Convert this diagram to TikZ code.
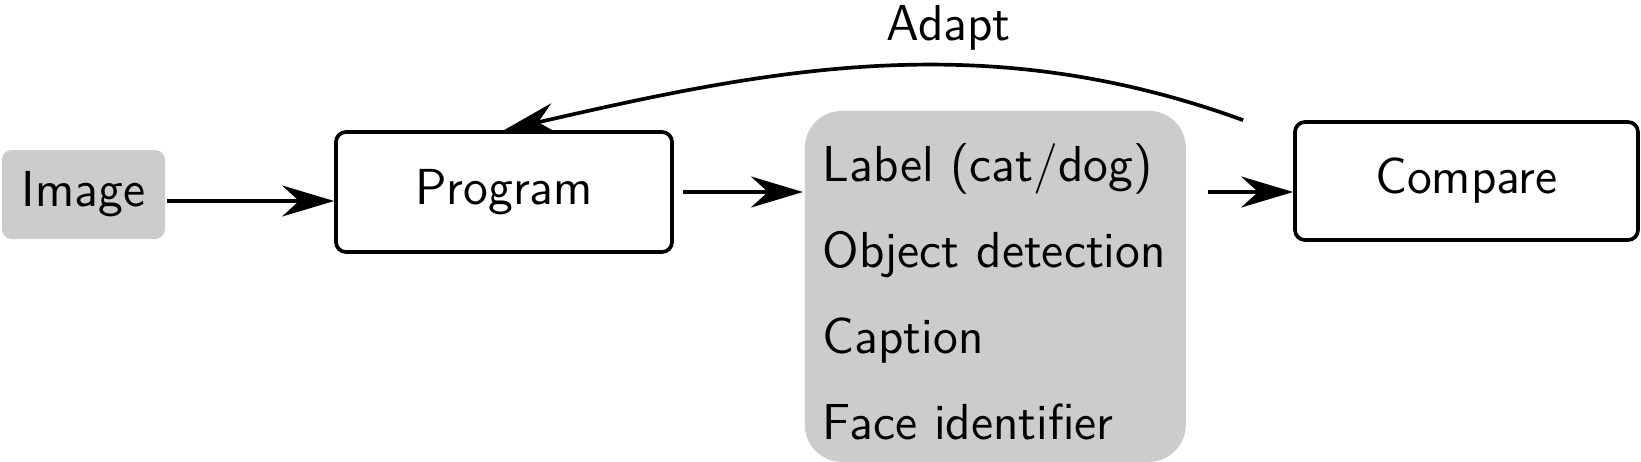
\documentclass[tikz,border=0pt]{standalone}
\usepackage{xcolor}
\usepackage{tikz}
\usetikzlibrary{positioning,arrows.meta}

\begin{document}
\begin{tikzpicture}[
			font=\sffamily\fontsize{14.4}{24.4}\selectfont,
			line width=1.05pt,
			graybox/.style = {fill=black!20, inner sep=0.2cm, rounded corners=0.1cm},
			whitebox/.style = {draw, rounded corners=0.1cm, minimum height=1.18cm},
			arrow/.style = {-{Stealth[length=0.52cm, width=0.31cm]}}]
			\useasboundingbox (0,0) rectangle (16.41,4.61);
			% boxes
			\node[graybox, anchor=west, minimum height=0.89cm] (image) at (0,2.665) {Image};
			\node[whitebox, minimum width=3.36cm, minimum height=1.2cm] (program) at (5.04,2.69) {Program};
			\node[graybox, rounded corners=0.37cm, anchor=north west, inner xsep=0.18cm,
				text width=3.45cm, align=left, text height=0.51cm, text depth=2.6cm] (outputs) at (8.03,3.52)
			{Label (cat/dog)\\Object detection\\Caption\\Face identifier};
			\node[whitebox, minimum width=3.43cm] (compare) at (14.665,2.80) {Compare};
			\coordinate (adaptfrom) at ([xshift=-5mm]compare.north west);
			% arrows
			\draw[arrow] ([yshift=-0.65mm]image.east) -- ([yshift=-0.65mm]image.east -| program.west);
			\draw[arrow, shorten <=0.9mm] (program.east) -- (program.east -| outputs.west);
			\draw[arrow, shorten <=2mm] (program.east -| outputs.east) -- (program.east -| compare.west);
			\draw[arrow] (adaptfrom) to[out=160, in=13, looseness=0.95]
				node[pos=0.40, above=1mm, inner sep=1pt] (adapt) {Adapt} (program.north);
\end{tikzpicture}
\end{document}
